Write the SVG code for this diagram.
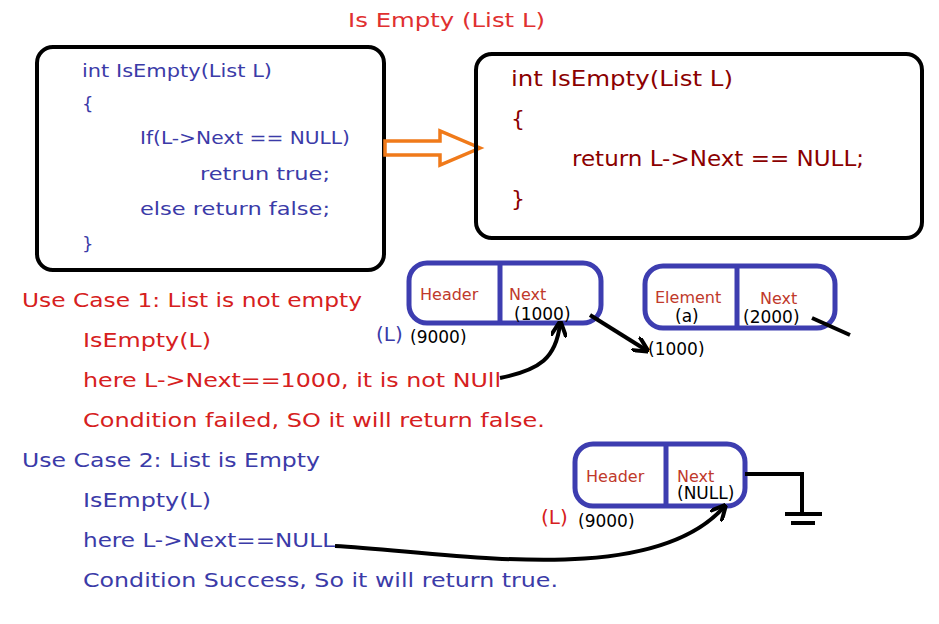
<svg xmlns="http://www.w3.org/2000/svg" width="939" height="624" viewBox="0 0 939 624">
<style>
text{font-family:"DejaVu Sans",Verdana,sans-serif}
.b{fill:#3b3ba8;font-size:18px}
.dr{fill:#8b0000;font-size:22px}
.r{fill:#d62020;font-size:20px}
.bl{fill:#3b3ba8;font-size:20px}
.nl{fill:#c0392b;font-size:16px}
.k{fill:#000;font-size:17px}
.box{fill:none;stroke:#000;stroke-width:4}
.node{fill:none;stroke:#3d3db0;stroke-width:5}
.con{fill:none;stroke:#000;stroke-width:4}
</style>
<defs><marker id="ah" viewBox="0 0 10 10" refX="8" refY="5" markerWidth="4" markerHeight="4" orient="auto"><path d="M0,0 L10,5 L0,10" fill="none" stroke="#000" stroke-width="2.5"/></marker></defs>
<rect width="939" height="624" fill="#fff"/>
<text x="348" y="27" fill="#e03030" font-size="20" textLength="197" lengthAdjust="spacingAndGlyphs">Is Empty (List L)</text>
<g id="leftcode">
<rect class="box" x="37" y="47" width="347" height="223" rx="16"/>
<text class="b" x="82" y="77" textLength="190" lengthAdjust="spacingAndGlyphs">int IsEmpty(List L)</text>
<text class="b" x="82" y="110">{</text>
<text class="b" x="140" y="144" textLength="210" lengthAdjust="spacingAndGlyphs">If(L-&gt;Next == NULL)</text>
<text class="b" x="200" y="180" textLength="130" lengthAdjust="spacingAndGlyphs">retrun true;</text>
<text class="b" x="140" y="215" textLength="190" lengthAdjust="spacingAndGlyphs">else return false;</text>
<text class="b" x="82" y="250">}</text>
</g>
<g id="arrow"><path d="M385,141 H440 V131 L480,148 L440,165 V155 H385 Z" fill="#fff" stroke="#f07a1a" stroke-width="3.5"/></g>
<g id="rightcode">
<rect class="box" x="476" y="54" width="446" height="184" rx="16"/>
<text class="dr" x="511" y="86" textLength="222" lengthAdjust="spacingAndGlyphs">int IsEmpty(List L)</text>
<text class="dr" x="511" y="126">{</text>
<text class="dr" x="572" y="166" textLength="292" lengthAdjust="spacingAndGlyphs">return L-&gt;Next == NULL;</text>
<text class="dr" x="511" y="206">}</text>
</g>
<g id="node1">
<rect class="node" x="409" y="263" width="192" height="60" rx="18"/>
<line x1="500" y1="263" x2="500" y2="323" stroke="#3d3db0" stroke-width="5"/>
<text class="nl" x="420" y="300">Header</text>
<text class="nl" x="509" y="300">Next</text>
<text class="k" x="514" y="320">(1000)</text>
<text fill="#3b3ba8" font-size="20" x="376" y="341">(L)</text>
<text class="k" x="410" y="343">(9000)</text>
</g>
<g id="node2">
<rect class="node" x="645" y="266" width="190" height="62" rx="18"/>
<line x1="737" y1="266" x2="737" y2="328" stroke="#3d3db0" stroke-width="5"/>
<text class="nl" x="655" y="303">Element</text>
<text class="k" x="675" y="322">(a)</text>
<text class="nl" x="760" y="304">Next</text>
<text class="k" x="743" y="323">(2000)</text>
<text class="k" x="648" y="355">(1000)</text>
</g>
<g id="node3">
<rect class="node" x="575" y="444" width="170" height="62" rx="18"/>
<line x1="666" y1="444" x2="666" y2="506" stroke="#3d3db0" stroke-width="5"/>
<text class="nl" x="586" y="482">Header</text>
<text class="nl" x="677" y="482">Next</text>
<text class="k" x="677" y="499">(NULL)</text>
<text fill="#d62020" font-size="20" x="541" y="524">(L)</text>
<text class="k" x="578" y="527">(9000)</text>
</g>
<g id="usecases">
<text class="r" x="22" y="307" textLength="340" lengthAdjust="spacingAndGlyphs">Use Case 1: List is not empty</text>
<text class="r" x="83" y="347" textLength="128" lengthAdjust="spacingAndGlyphs">IsEmpty(L)</text>
<text class="r" x="83" y="387" textLength="418" lengthAdjust="spacingAndGlyphs">here L-&gt;Next==1000, it is not NUll</text>
<text class="r" x="83" y="427" textLength="462" lengthAdjust="spacingAndGlyphs">Condition failed, SO it will return false.</text>
<text class="bl" x="22" y="467" textLength="298" lengthAdjust="spacingAndGlyphs">Use Case 2: List is Empty</text>
<text class="bl" x="83" y="507" textLength="128" lengthAdjust="spacingAndGlyphs">IsEmpty(L)</text>
<text class="bl" x="83" y="547" textLength="252" lengthAdjust="spacingAndGlyphs">here L-&gt;Next==NULL</text>
<text class="bl" x="83" y="587" textLength="475" lengthAdjust="spacingAndGlyphs">Condition Success, So it will return true.</text>
</g>
<g id="connectors">
<path class="con" d="M590,315 L646,350" marker-end="url(#ah)"/>
<path class="con" d="M812,318 L850,335"/>
<path class="con" d="M500,378 C540,370 556,358 560,324" marker-end="url(#ah)"/>
<path class="con" d="M335,546 C450,552 650,590 724,507" marker-end="url(#ah)"/>
<path class="con" d="M745,474 H802 V514 M785,514 H822 M791,523 H815"/>
</g>
</svg>
